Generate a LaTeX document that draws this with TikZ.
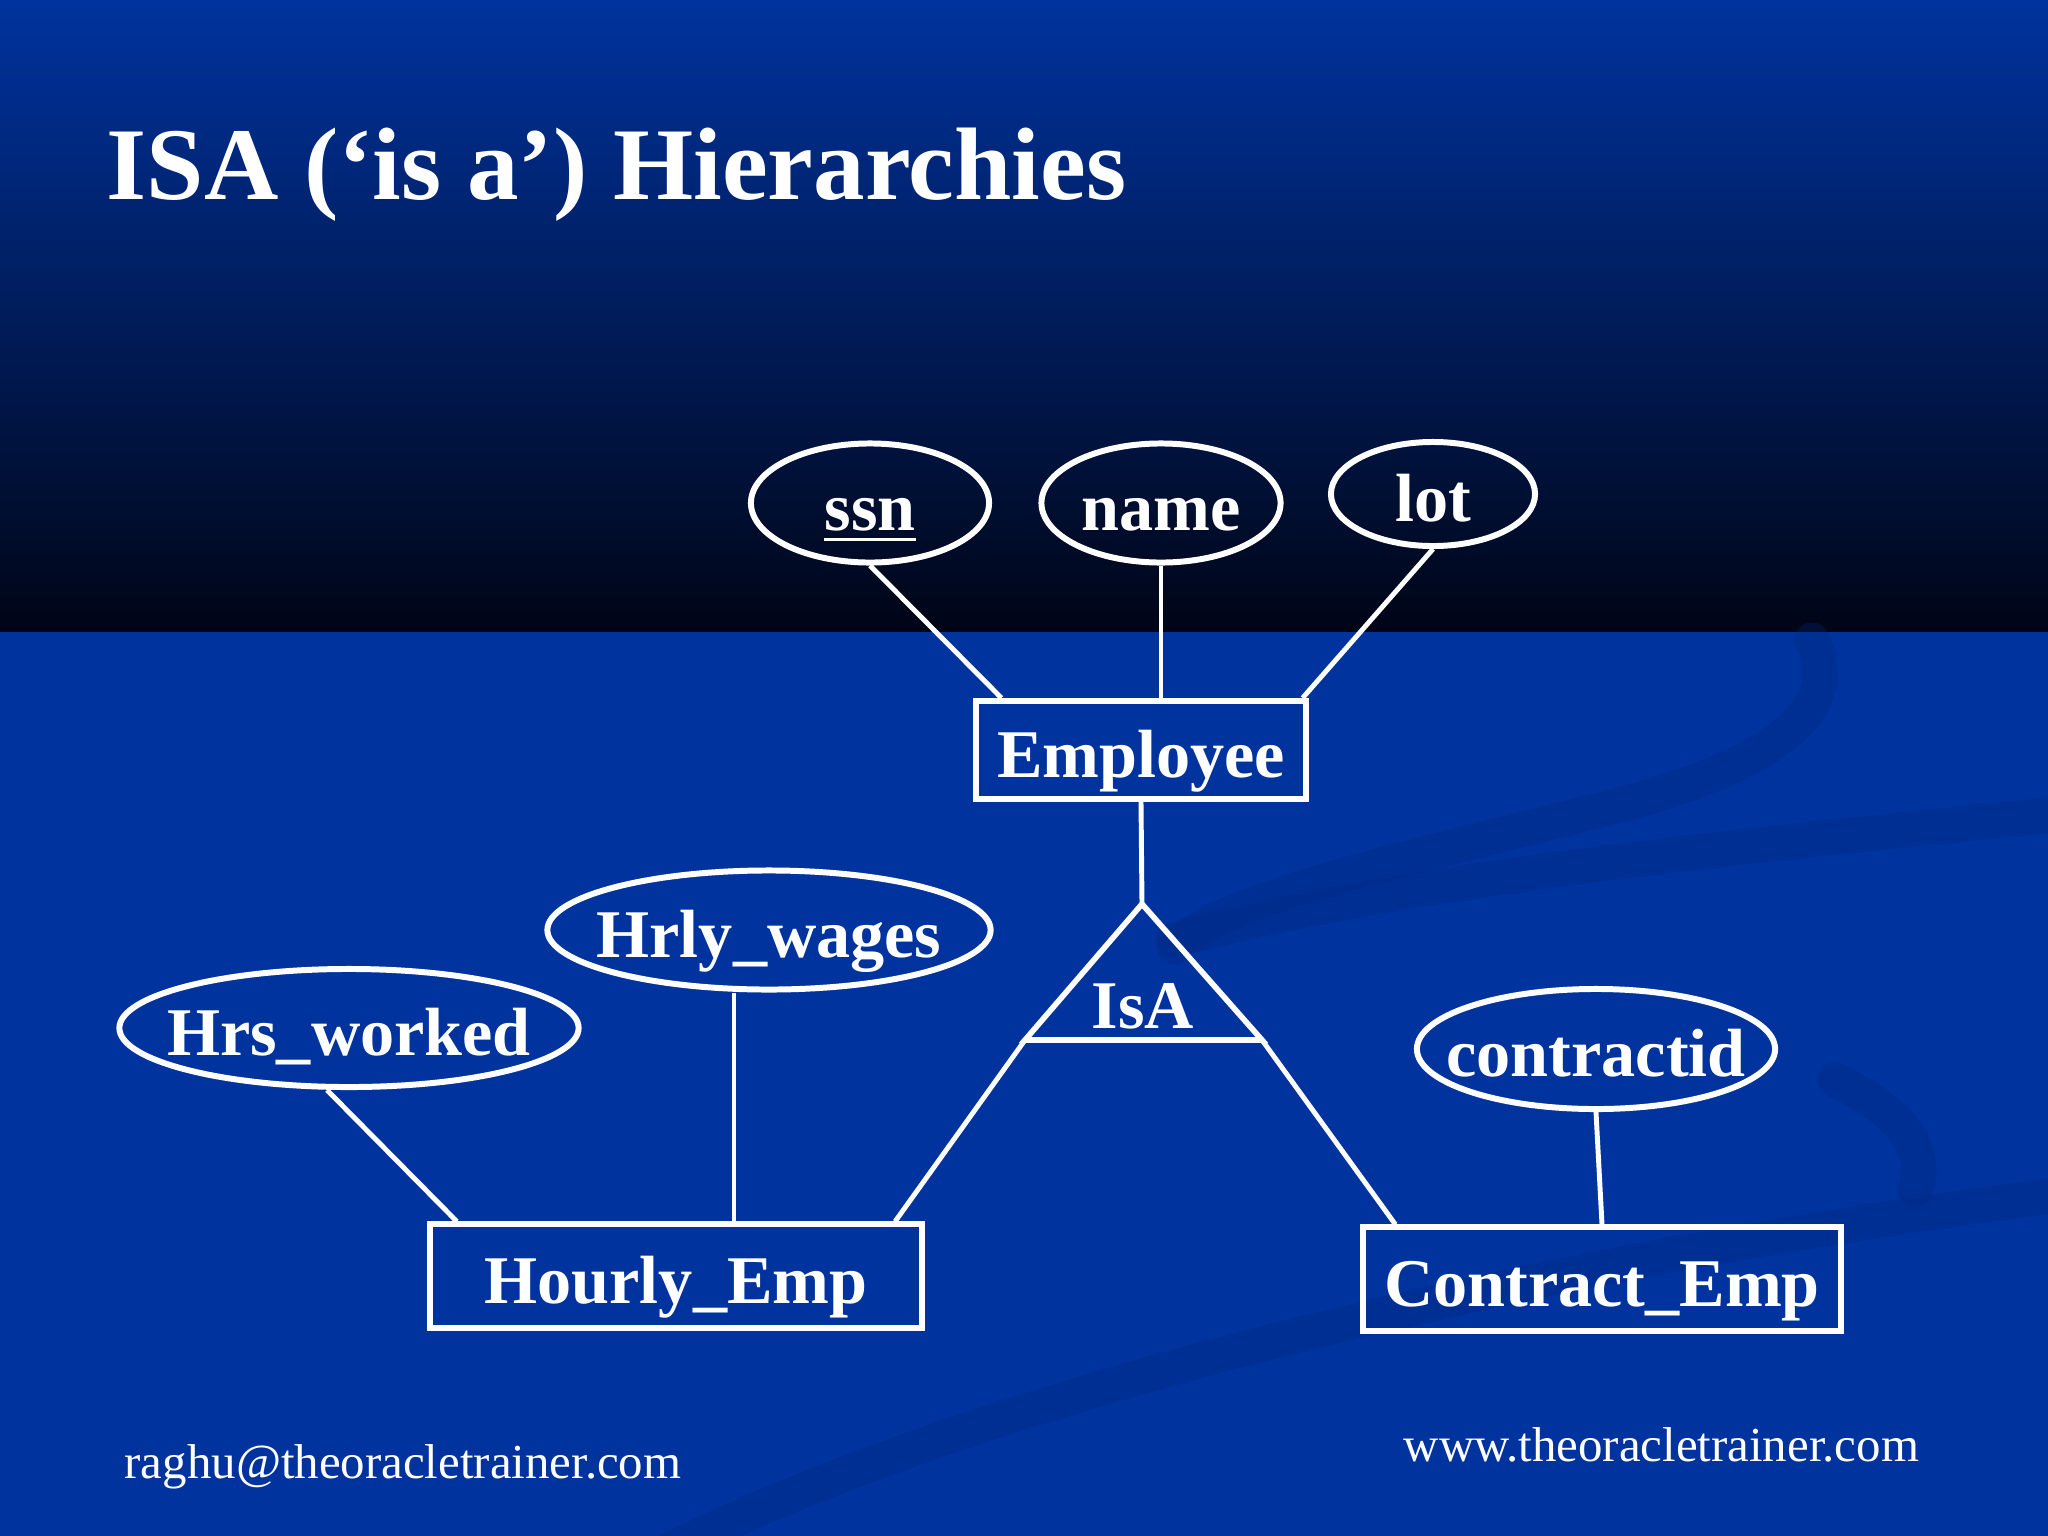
\documentclass[tikz,border=0pt]{standalone}
\usepackage{fontspec}
\setmainfont{Liberation Serif}
\usepackage{tikz}
\usetikzlibrary{shapes,positioning,calc}
\usepackage{xcolor}

\definecolor{slideblue}{RGB}{0,51,158}
\definecolor{slidenavy}{RGB}{0,5,22}
\definecolor{swooshblue}{RGB}{0,40,128}

% key attribute: thick underline
\newcommand{\keyattr}[1]{\setbox0\hbox{#1}\rlap{\rule[-0.11cm]{\wd0}{0.035cm}}\box0}
% attribute text that does not widen the ellipse
\newcommand{\attrtext}[1]{\makebox[0pt]{#1}}

\begin{document}
\begin{tikzpicture}[x=0.01cm, y=-0.01cm,
    erfont/.style={text=white, font=\fontsize{19.4}{23}\selectfont\bfseries, text height=0.54cm, text depth=0pt},
    attr/.style={erfont, ellipse, draw=white, line width=1.7pt, inner sep=0pt},
    entity/.style={erfont, rectangle, draw=white, line width=1.7pt, inner sep=0pt},
    rel/.style={draw=white, line width=1.4pt},
    band/.style={swooshblue, line width=0.35cm, line cap=round, opacity=0.3},
    footer/.style={anchor=base west, inner sep=0pt, text=white, font=\fontsize{13.9}{17}\selectfont}]

    \useasboundingbox (0,0) rectangle (2048,1536);
    \clip (0,0) rectangle (2048,1536);

    % Background
    \fill[slideblue] (0,0) rectangle (2048,1536);
    \shade[top color=slideblue, bottom color=slidenavy] (0,0) rectangle (2048,631);
    \draw[band] (1812,640) .. controls (1840,700) and (1800,760) .. (1600,810)
        .. controls (1400,860) and (1220,900) .. (1174,947);
    \draw[band] (1174,940) .. controls (1400,880) and (1700,850) .. (2100,810);
    \draw[band] (650,1560) .. controls (1000,1380) and (1600,1250) .. (2100,1190);
    \draw[band] (1835,1080) .. controls (1900,1110) and (1930,1150) .. (1915,1190);

    % Title
    \node[anchor=base west, inner sep=0pt, text=white, font=\fontsize{29.3}{35}\selectfont\bfseries] (title) at (106,199) {ISA (`is a') Hierarchies};

    % Employee and its attributes
    \node[entity, minimum width=3.29cm, minimum height=0.98cm] (emp) at (1141,750) {Employee};
    \node[attr, minimum width=2.38cm, minimum height=1.19cm] (ssn) at (870,503) {\attrtext{\keyattr{ssn}}};
    \node[attr, minimum width=2.39cm, minimum height=1.19cm] (name) at (1161,503) {\attrtext{name}};
    \node[attr, minimum width=2.04cm, minimum height=1.04cm] (lot) at (1433,494) {\attrtext{lot}};

    \draw[rel] (ssn.south) -- ([xshift=0.28cm]emp.north west);
    \draw[rel] (name.south) -- (name.south |- emp.north);
    \draw[rel] (lot.south) -- ([xshift=-0.06cm]emp.north east);

    % IsA triangle
    \coordinate (isatop) at (1142,904);
    \coordinate (isaleft) at (1025,1040);
    \coordinate (isaright) at (1262,1040);
    \draw[rel, line width=1.6pt, line join=miter] (isatop) -- (isaleft) -- (isaright) -- cycle;
    \node[erfont, inner sep=0pt] (isa) at (1143,1001) {IsA};
    \draw[rel] (emp.south) -- (isatop);

    % Subclasses
    \node[entity, minimum width=4.92cm, minimum height=1.03cm] (hourly) at (676,1276) {Hourly\_Emp};
    \node[entity, minimum width=4.77cm, minimum height=1.03cm] (contract) at (1602,1279) {Contract\_Emp};
    \draw[rel] (isaleft) -- ([xshift=-0.30cm]hourly.north east);
    \draw[rel] (isaright) -- ([xshift=0.35cm]contract.north west);

    % Subclass attributes
    \node[attr, minimum width=4.59cm, minimum height=1.18cm] (hrs) at (349,1028) {\attrtext{Hrs\_worked}};
    \node[attr, minimum width=4.43cm, minimum height=1.19cm] (wages) at (769,930) {\attrtext{Hrly\_wages}};
    \node[attr, minimum width=3.58cm, minimum height=1.20cm] (ctid) at (1596,1049) {\attrtext{contractid}};

    \draw[rel] ([xshift=-0.22cm]hrs.south) -- ([xshift=0.30cm]hourly.north west);
    \draw[rel] ([xshift=-0.35cm]wages.south) -- ([xshift=-0.35cm]wages.south |- hourly.north);
    \draw[rel] (ctid.south) -- (contract.north);

    % Footer
    \node[footer] (mail) at (124,1478) {raghu@theoracletrainer.com};
    \node[footer] (web) at (1403,1461) {www.theoracletrainer.com};
\end{tikzpicture}
\end{document}
